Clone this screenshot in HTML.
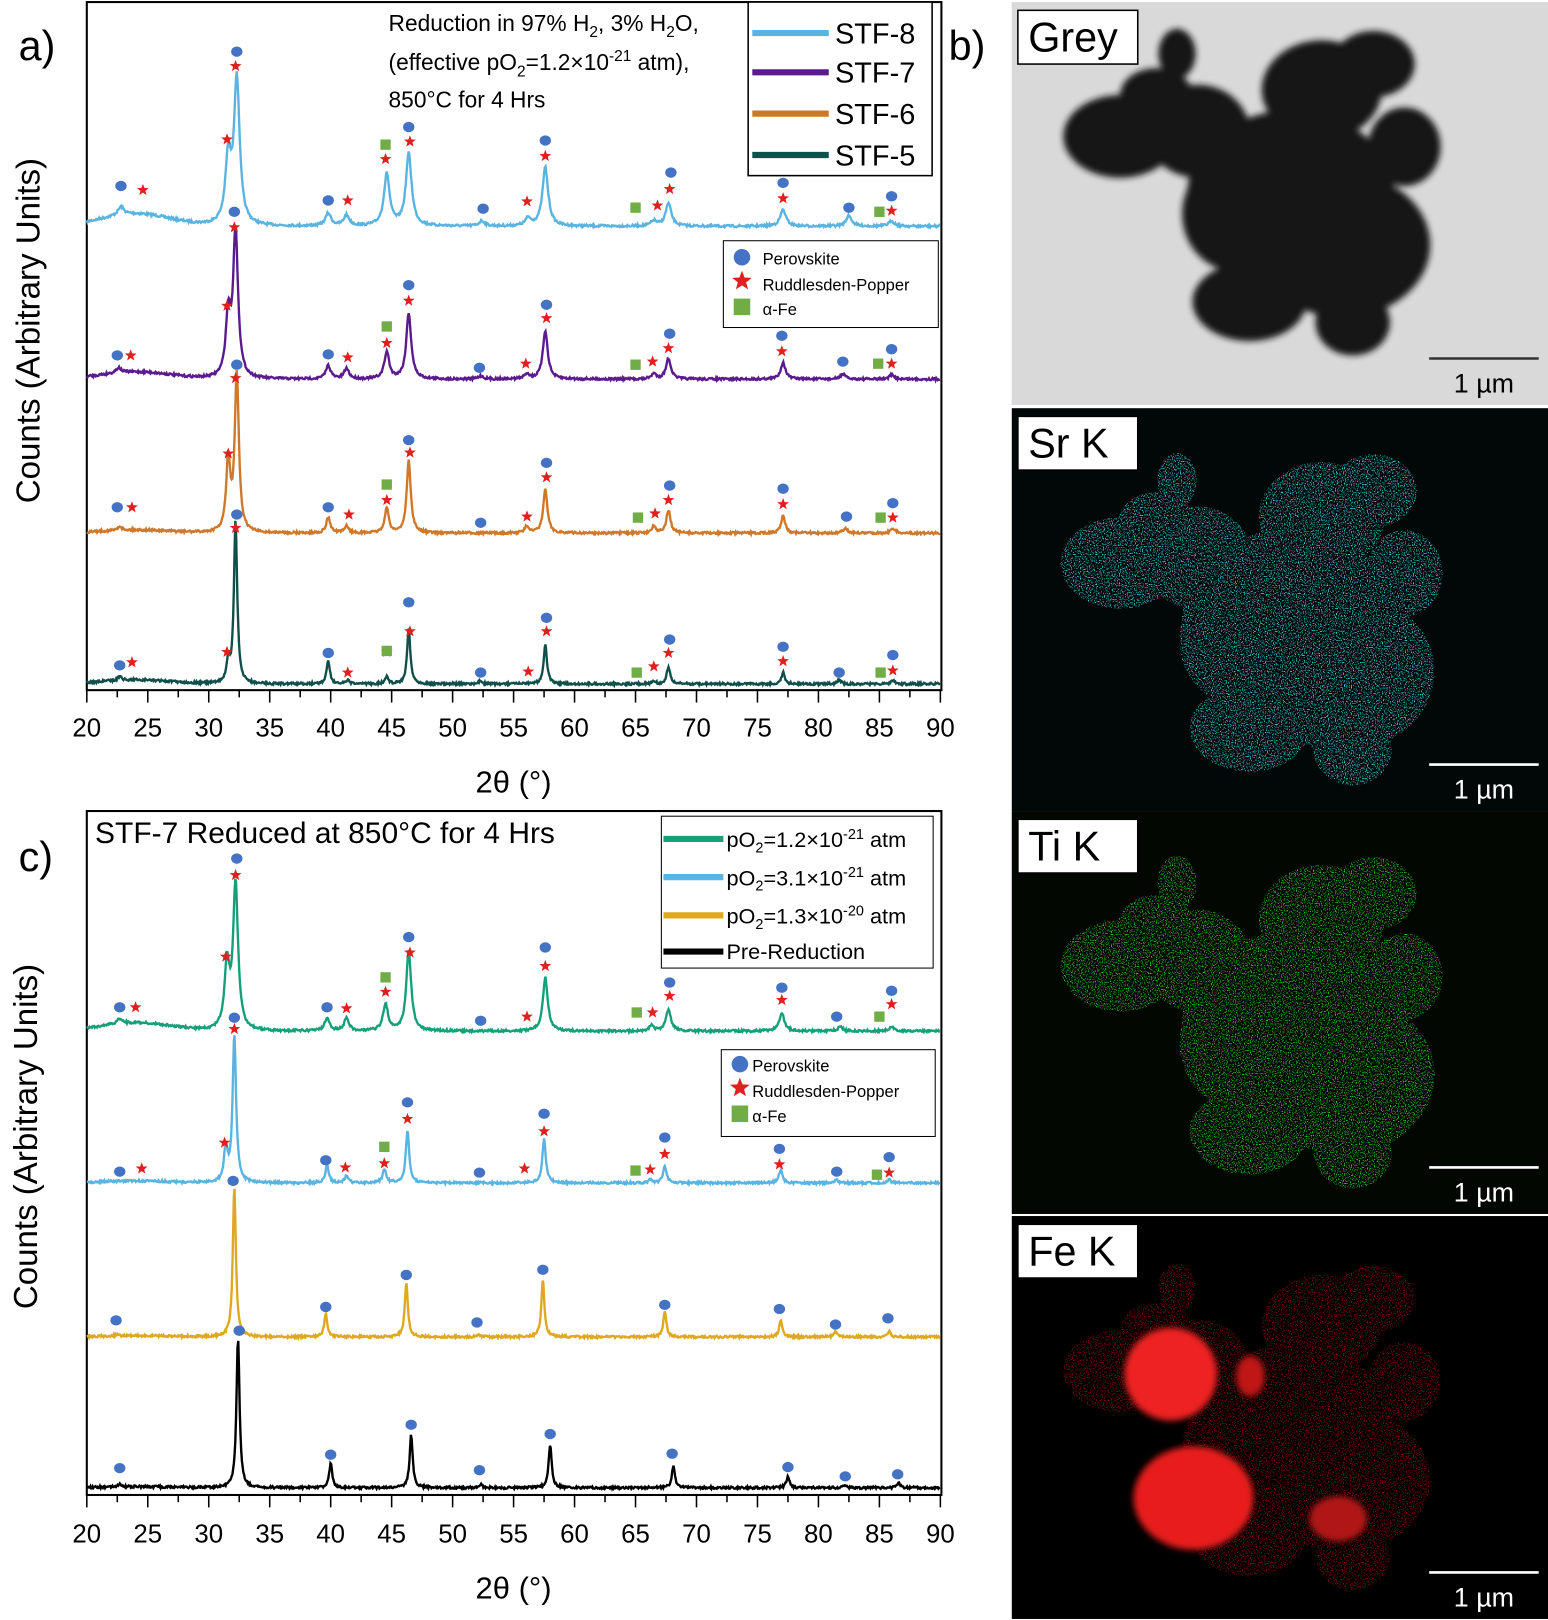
<!DOCTYPE html>
<html><head><meta charset="utf-8"><style>
html,body{margin:0;padding:0;background:#fff}
svg{display:block}
text{font-family:"Liberation Sans",Arial,sans-serif}
</style></head><body>
<svg id="s" width="1548" height="1620" viewBox="0 0 1498 1568" preserveAspectRatio="none" xmlns="http://www.w3.org/2000/svg">
<defs>
<filter id="speck" x="0" y="0" width="100%" height="100%">
<feTurbulence type="fractalNoise" baseFrequency="0.9" numOctaves="1" seed="3" result="n"/>
<feColorMatrix in="n" type="matrix" values="0 0 0 0 0  0 0 0 0 0  0 0 0 0 0  0 0 0 9 -4.9" result="a"/>
<feComposite in="SourceGraphic" in2="a" operator="in"/>
</filter>
<filter id="blur4"><feGaussianBlur stdDeviation="3"/></filter>
</defs>
<rect width="1498" height="1568" fill="#fff"/>
<rect x="84" y="2" width="827" height="666" fill="none" stroke="#000" stroke-width="2"/>
<rect x="84" y="785" width="827" height="662" fill="none" stroke="#000" stroke-width="2"/>
<g id="ticks"></g>
<g id="series"></g>
<g id="marks"></g>
<text x="18" y="58" font-size="40">a)</text>
<text x="18" y="843" font-size="40">c)</text>
<text x="918" y="58" font-size="40">b)</text>
<text transform="translate(38,320) rotate(-90)" font-size="32" text-anchor="middle">Counts (Arbitrary Units)</text>
<text transform="translate(36,1100) rotate(-90)" font-size="32" text-anchor="middle">Counts (Arbitrary Units)</text>
<text x="497" y="767" font-size="30" text-anchor="middle">2θ (°)</text>
<text x="497" y="1547" font-size="30" text-anchor="middle">2θ (°)</text>
<text x="376" y="30" font-size="22">Reduction in 97% H<tspan font-size="15" dy="6">2</tspan><tspan dy="-6">, 3% H</tspan><tspan font-size="15" dy="6">2</tspan><tspan dy="-6">O,</tspan></text>
<text x="376" y="68" font-size="22">(effective pO<tspan font-size="15" dy="6">2</tspan><tspan dy="-6">=1.2×10</tspan><tspan font-size="15" dy="-9">-21</tspan><tspan dy="9"> atm),</tspan></text>
<text x="376" y="104" font-size="22">850°C for 4 Hrs</text>
<rect x="724" y="2" width="178" height="168" fill="#fff" stroke="#000" stroke-width="1.5"/>
<line x1="728" y1="32" x2="802" y2="32" stroke="#5ab4e1" stroke-width="6"/>
<line x1="728" y1="70" x2="802" y2="70" stroke="#5b1a8e" stroke-width="6"/>
<line x1="728" y1="110" x2="802" y2="110" stroke="#d0782a" stroke-width="6"/>
<line x1="728" y1="150" x2="802" y2="150" stroke="#11504a" stroke-width="6"/>
<text x="808" y="42" font-size="28">STF-8</text>
<text x="808" y="80" font-size="28">STF-7</text>
<text x="808" y="120" font-size="28">STF-6</text>
<text x="808" y="160" font-size="28">STF-5</text>
<rect x="700" y="233" width="208" height="84" fill="#fff" stroke="#000" stroke-width="1"/>
<text x="738" y="256" font-size="16">Perovskite</text>
<text x="738" y="281" font-size="16">Ruddlesden-Popper</text>
<text x="738" y="305" font-size="16">α-Fe</text>
<text x="92" y="816" font-size="29">STF-7 Reduced at 850°C for 4 Hrs</text>
<rect x="640" y="790" width="263" height="147" fill="#fff" stroke="#000" stroke-width="1"/>
<line x1="642" y1="812" x2="700" y2="812" stroke="#16a07a" stroke-width="6"/>
<line x1="642" y1="849" x2="700" y2="849" stroke="#5ab4e1" stroke-width="6"/>
<line x1="642" y1="886" x2="700" y2="886" stroke="#e0a820" stroke-width="6"/>
<line x1="642" y1="921" x2="700" y2="921" stroke="#000" stroke-width="6"/>
<text x="703" y="820" font-size="21">pO<tspan font-size="14" dy="5">2</tspan><tspan dy="-5">=1.2×10</tspan><tspan font-size="14" dy="-8">-21</tspan><tspan dy="8"> atm</tspan></text>
<text x="703" y="857" font-size="21">pO<tspan font-size="14" dy="5">2</tspan><tspan dy="-5">=3.1×10</tspan><tspan font-size="14" dy="-8">-21</tspan><tspan dy="8"> atm</tspan></text>
<text x="703" y="894" font-size="21">pO<tspan font-size="14" dy="5">2</tspan><tspan dy="-5">=1.3×10</tspan><tspan font-size="14" dy="-8">-20</tspan><tspan dy="8"> atm</tspan></text>
<text x="703" y="928" font-size="21">Pre-Reduction</text>
<rect x="698" y="1016" width="207" height="84" fill="#fff" stroke="#000" stroke-width="1"/>
<text x="728" y="1037" font-size="16">Perovskite</text>
<text x="728" y="1062" font-size="16">Ruddlesden-Popper</text>
<text x="728" y="1086" font-size="16">α-Fe</text>
<g id="legm"></g>
<g id="imgs"></g>
</svg>
<script>
var NS="http://www.w3.org/2000/svg";
function el(t,a,p){var e=document.createElementNS(NS,t);for(var k in a)e.setAttribute(k,a[k]);(p||document.getElementById('s')).appendChild(e);return e;}
function X(v){return 84+(v-20)*11.8;}
var tk=document.getElementById('ticks');
[[668,705],[1447,1485]].forEach(function(r){
 for(var v=20;v<=90;v+=2.5){var maj=(v%5===0);el('line',{x1:X(v),x2:X(v),y1:r[0],y2:r[0]+(maj?12:7),stroke:'#000','stroke-width':1.5},tk);
 if(maj){var t=el('text',{x:X(v),y:r[1]+8,'font-size':25,'text-anchor':'middle'},tk);t.textContent=v;}}
});
var seed=7;function rnd(){seed=(seed*16807)%2147483647;return seed/2147483647;}
function series(base,peaks,col,hump,w){
 var d="",g=document.getElementById('series');
 for(var v=20;v<=90;v+=0.06){var y=base;
  peaks.forEach(function(p){var z=(v-p[0])/(w||0.22);y-=p[1]/(1+z*z);});
  if(hump){y-=hump*Math.exp(-Math.pow((v-24)/4,2));}
  y+=(rnd()-0.5)*2.2;
  d+=(d?"L":"M")+X(v).toFixed(1)+" "+y.toFixed(1);}
 el('path',{d:d,fill:'none',stroke:col,'stroke-width':2.3},g);
}
series(219,[[22.8,8],[31.6,62],[32.3,140],[39.8,12],[41.3,10],[44.6,50],[46.4,70],[52.4,5],[56.2,7],[57.6,57],[66.5,5],[67.7,22],[77.1,16],[82.5,10],[86,5]],'#5ab4e1',12,0.28);
series(367,[[22.6,5],[31.6,58],[32.2,142],[39.8,13],[41.3,10],[44.6,26],[46.4,64],[52.3,3],[56.1,5],[57.6,47],[66.5,5],[67.7,20],[77.1,16],[82,5],[86,4]],'#5b1a8e',7,0.24);
series(516,[[22.7,4],[31.6,68],[32.3,152],[39.8,15],[41.3,7],[44.6,24],[46.4,70],[56.1,7],[57.6,43],[66.5,7],[67.7,22],[77.1,17],[82.2,5],[86.1,5]],'#d0782a',3,0.2);
series(662,[[22.7,4],[31.6,20],[32.2,158],[39.8,23],[41.4,3],[44.6,7],[46.4,54],[52.3,3],[57.6,39],[66.5,3],[67.7,17],[77.1,11],[81.7,4],[86.1,4]],'#11504a',4,0.16);
series(998,[[22.7,5],[31.5,62],[32.2,142],[39.7,12],[41.3,12],[44.5,26],[46.4,78],[57.6,52],[66.3,5],[67.7,21],[77,18],[81.8,4],[86,4]],'#16a07a',8,0.24);
series(1145,[[31.4,33],[32.1,143],[39.7,17],[41.3,7],[44.4,13],[46.3,50],[57.5,43],[66.2,3],[67.4,17],[76.9,13],[81.5,3],[85.8,3]],'#5ab4e1',2,0.17);
series(1294,[[22.5,2],[32.1,146],[39.6,23],[46.2,53],[52.1,3],[57.4,55],[67.4,25],[76.9,16],[81.4,5],[85.8,5]],'#e0a820',1,0.15);
series(1440,[[22.7,3],[32.4,144],[40,24],[46.6,51],[52.3,3],[58,42],[68.1,21],[77.5,11],[82.2,3],[86.6,5]],'#000',1,0.15);
var mk=document.getElementById('marks');
function circ(x,y,g){el('ellipse',{cx:x,cy:y,rx:5.5,ry:5,fill:'#4472c4'},g||mk);}
function star(x,y,r,g){r=r||6;var d="";for(var i=0;i<10;i++){var a=-Math.PI/2+i*Math.PI/5,rr=i%2?r*0.42:r;d+=(i?"L":"M")+(x+rr*Math.cos(a)).toFixed(1)+" "+(y+rr*Math.sin(a)).toFixed(1);}el('path',{d:d+"Z",fill:'#e0201e'},g||mk);}
function sq(x,y,s,g){s=s||10;el('rect',{x:x-s/2,y:y-s/2,width:s,height:s,fill:'#70ad47'},g||mk);}
function M(c,s,q){c.forEach(function(p){circ(X(p[0]),p[1]);});(s||[]).forEach(function(p){star(X(p[0]),p[1]);});(q||[]).forEach(function(p){sq(X(p[0]),p[1]);});}
M([[22.8,180],[32.3,50],[39.8,194],[46.4,123],[52.5,202],[57.6,136],[67.9,167],[77.1,177],[82.5,201],[86,190]],
  [[24.6,184],[31.5,135],[32.2,64],[41.4,194],[44.5,154],[46.5,137],[56.1,195],[57.6,151],[66.8,199],[67.8,183],[77.1,192],[86,204]],
  [[44.5,140],[65,201],[85,205]]);
M([[22.5,344],[32.1,205],[39.8,343],[46.4,276],[52.2,356],[57.7,295],[67.8,323],[77,325],[82,350],[86,338]],
  [[23.6,344],[31.5,296],[32.1,220],[41.4,346],[44.6,332],[46.4,291],[56,352],[57.7,308],[66.4,350],[67.7,337],[77,340],[86,352]],
  [[44.6,316],[65,353],[84.9,352]]);
M([[22.5,491],[32.3,353],[39.8,491],[46.4,426],[52.3,506],[57.7,448],[67.8,470],[77.1,473],[82.3,500],[86.1,487]],
  [[23.7,491],[31.6,439],[32.2,366],[41.5,498],[44.6,484],[46.5,438],[56.1,500],[57.7,462],[66.6,497],[67.7,484],[77.1,488],[86.1,501]],
  [[44.6,469],[65.2,501],[85.1,501]]);
M([[22.7,644],[32.3,498],[39.8,632],[46.4,583],[52.3,651],[57.7,598],[67.8,619],[77.1,626],[81.7,651],[86.1,634]],
  [[23.7,641],[31.5,631],[32.2,511],[41.4,651],[44.6,631],[46.5,611],[56.2,650],[57.7,611],[66.5,645],[67.7,632],[77.1,640],[86.1,649]],
  [[44.6,630],[65.1,651],[85.1,651]]);
M([[22.7,975],[32.3,831],[39.7,975],[46.4,907],[52.3,988],[57.6,917],[67.8,951],[77,956],[81.5,984],[86,959]],
  [[24,975],[31.4,926],[32.2,847],[41.3,976],[44.5,960],[46.5,922],[56.1,984],[57.6,935],[66.4,980],[67.8,964],[77,968],[86,972]],
  [[44.5,946],[65.1,980],[85,984]]);
M([[22.7,1134],[32.1,985],[39.6,1123],[46.3,1067],[52.2,1135],[57.5,1078],[67.4,1101],[76.8,1112],[81.5,1134],[85.8,1120]],
  [[24.5,1131],[31.3,1106],[32.1,996],[41.2,1130],[44.4,1126],[46.3,1083],[55.9,1131],[57.5,1095],[66.2,1132],[67.4,1117],[76.8,1127],[85.8,1135]],
  [[44.4,1110],[65,1133],[84.8,1137]]);
M([[22.4,1278],[32,1143],[39.6,1265],[46.2,1234],[52,1280],[57.4,1229],[67.4,1263],[76.8,1267],[81.4,1282],[85.7,1276]]);
M([[22.7,1421],[32.5,1288],[40,1408],[46.6,1379],[52.2,1423],[58,1388],[68,1407],[77.5,1420],[82.2,1429],[86.5,1427]]);
var lg=document.getElementById('legm');
el('ellipse',{cx:718,cy:249,rx:8,ry:8,fill:'#4472c4'},lg);star(718,272,10,lg);sq(718,297,16,lg);
el('ellipse',{cx:716,cy:1030,rx:8,ry:8,fill:'#4472c4'},lg);star(716,1053,10,lg);sq(716,1078,16,lg);
var im=document.getElementById('imgs');
var blobs=[[105,140,55,40],[180,135,50,45],[160,60,18,24],[300,95,58,48],[350,70,40,32],[270,195,100,80],[320,245,85,70],[215,215,50,55],[380,150,35,38],[140,100,35,26],[230,300,55,38],[330,320,36,32]];
var panels=[[2,'#cfcfcf','Grey'],[395,'#000','Sr K'],[785,'#000','Ti K'],[1177,'#000','Fe K']];
var cols=[null,'#3ec8d8','#2fbf2f','#d01818'];
panels.forEach(function(P,i){
 var y0=P[0],h=390,x0=979,w=519;
 var g=el('g',{},im);
 var cp=el('clipPath',{id:'cp'+i},g);el('rect',{x:x0,y:y0,width:w,height:h},cp);
 var gg=el('g',{'clip-path':'url(#cp'+i+')'},g);
 el('rect',{x:x0,y:y0,width:w,height:h,fill:P[1]},gg);
 if(i===0){
  el('rect',{x:x0,y:y0,width:w,height:h,fill:'#e4e4e4',opacity:0.5},gg);
  var b=el('g',{filter:'url(#blur4)'},gg);
  blobs.forEach(function(e){el('ellipse',{cx:x0+e[0],cy:y0+e[1]-10,rx:e[2],ry:e[3],fill:'#151515'},b);});
 } else if(i<3){
  var b=el('g',{filter:'url(#speck)'},gg);
  blobs.forEach(function(e){el('ellipse',{cx:x0+e[0],cy:y0+e[1]+10,rx:e[2]*1.05,ry:e[3]*1.1,fill:cols[i]},b);});
  el('rect',{x:x0,y:y0,width:w,height:h,fill:cols[i],opacity:0.04},gg);
 } else {
  var b=el('g',{filter:'url(#speck)'},gg);
  blobs.forEach(function(e){el('ellipse',{cx:x0+e[0],cy:y0+e[1]+10,rx:e[2],ry:e[3],fill:'#7a1010'},b);});
  var b2=el('g',{filter:'url(#blur4)'},gg);
  el('ellipse',{cx:1133,cy:1330,rx:45,ry:45,fill:'#ee2020'},b2);
  el('ellipse',{cx:1155,cy:1450,rx:58,ry:50,fill:'#e81e1e'},b2);
  el('ellipse',{cx:1210,cy:1332,rx:14,ry:20,fill:'#c01818'},b2);
  el('ellipse',{cx:1295,cy:1470,rx:28,ry:22,fill:'#b01515'},b2);
 }
 var lw=P[2].length*24+20;
 el('rect',{x:x0+6,y:y0+8,width:lw,height:52,fill:'#fff',stroke:'#000','stroke-width':1.5},gg);
 var t=el('text',{x:x0+16,y:y0+48,'font-size':40},gg);t.textContent=P[2];
 var sc=i===0?'#000':'#fff';
 el('line',{x1:x0+404,x2:x0+510,y1:y0+345,y2:y0+345,stroke:i===0?'#333':'#fff','stroke-width':2.5},gg);
 var t2=el('text',{x:x0+457,y:y0+378,'font-size':26,'text-anchor':'middle',fill:sc},gg);t2.textContent='1 µm';
});
</script>
</body></html>
